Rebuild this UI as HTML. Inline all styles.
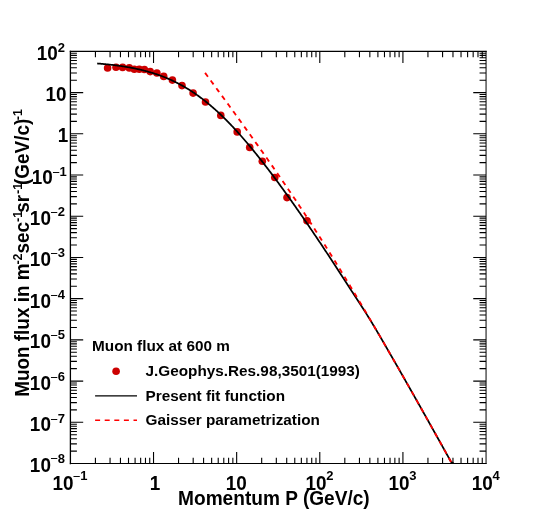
<!DOCTYPE html>
<html><head><meta charset="utf-8"><title>Muon flux</title>
<style>html,body{margin:0;padding:0;background:#fff}svg{display:block}text{font-family:"Liberation Sans", sans-serif;font-weight:bold;fill:#000}</style></head>
<body>
<svg width="540" height="515" viewBox="0 0 540 515">
<rect x="0" y="0" width="540" height="515" fill="#fff"/>
<defs><clipPath id="fr"><rect x="70.40" y="51.40" width="415.65" height="412.10"/></clipPath></defs>
<g clip-path="url(#fr)" fill="none" stroke-linecap="butt" stroke-linejoin="round">
<g fill="#cc0000" stroke="none"><circle cx="107.6" cy="68.0" r="3.8"/><circle cx="116.0" cy="67.3" r="3.8"/><circle cx="122.6" cy="67.4" r="3.8"/><circle cx="129.3" cy="67.9" r="3.8"/><circle cx="134.3" cy="69.2" r="3.8"/><circle cx="139.3" cy="69.3" r="3.8"/><circle cx="144.4" cy="69.5" r="3.8"/><circle cx="150.2" cy="71.6" r="3.8"/><circle cx="156.9" cy="73.0" r="3.8"/><circle cx="163.7" cy="76.4" r="3.8"/><circle cx="172.4" cy="80.1" r="3.8"/><circle cx="182.0" cy="85.6" r="3.8"/><circle cx="193.1" cy="93.1" r="3.8"/><circle cx="205.5" cy="102.0" r="3.8"/><circle cx="220.8" cy="115.4" r="3.8"/><circle cx="237.2" cy="131.9" r="3.8"/><circle cx="249.7" cy="147.4" r="3.8"/><circle cx="262.3" cy="161.3" r="3.8"/><circle cx="274.8" cy="177.5" r="3.8"/><circle cx="287.0" cy="197.6" r="3.8"/><circle cx="307.0" cy="220.8" r="3.8"/></g>
<path d="M97.19 63.45 L97.84 63.51 L98.48 63.56 L99.13 63.61 L99.78 63.67 L100.43 63.72 L101.08 63.78 L101.73 63.84 L102.38 63.90 L103.03 63.95 L103.68 64.02 L104.33 64.08 L104.98 64.14 L105.63 64.20 L106.27 64.27 L106.92 64.33 L107.57 64.40 L108.22 64.47 L108.87 64.54 L109.52 64.61 L110.17 64.68 L110.82 64.75 L111.47 64.83 L112.12 64.90 L112.77 64.98 L113.42 65.06 L114.06 65.14 L114.71 65.22 L115.36 65.30 L116.01 65.38 L116.66 65.47 L117.31 65.55 L117.96 65.64 L118.61 65.73 L119.26 65.82 L119.91 65.91 L120.56 66.00 L121.21 66.10 L121.86 66.20 L122.50 66.29 L123.15 66.39 L123.80 66.49 L124.45 66.60 L125.10 66.70 L125.75 66.81 L126.40 66.92 L127.05 67.02 L127.70 67.14 L128.35 67.25 L129.00 67.36 L129.65 67.48 L130.29 67.60 L130.94 67.72 L131.59 67.84 L132.24 67.97 L132.89 68.09 L133.54 68.22 L134.19 68.35 L134.84 68.48 L135.49 68.62 L136.14 68.76 L136.79 68.89 L137.44 69.04 L138.08 69.18 L138.73 69.32 L139.38 69.47 L140.03 69.62 L140.68 69.77 L141.33 69.93 L141.98 70.08 L142.63 70.24 L143.28 70.40 L143.93 70.57 L144.58 70.74 L145.23 70.90 L145.88 71.08 L146.52 71.25 L147.17 71.43 L147.82 71.61 L148.47 71.79 L149.12 71.97 L149.77 72.16 L150.42 72.35 L151.07 72.54 L151.72 72.74 L152.37 72.94 L153.02 73.14 L153.67 73.34 L154.31 73.55 L154.96 73.76 L155.61 73.97 L156.26 74.19 L156.91 74.41 L157.56 74.63 L158.21 74.85 L158.86 75.08 L159.51 75.31 L160.16 75.55 L160.81 75.79 L161.46 76.03 L162.10 76.27 L162.75 76.52 L163.40 76.77 L164.05 77.03 L164.70 77.29 L165.35 77.55 L166.00 77.81 L166.65 78.08 L167.30 78.35 L167.95 78.63 L168.60 78.91 L169.25 79.19 L169.90 79.48 L170.54 79.77 L171.19 80.06 L171.84 80.36 L172.49 80.66 L173.14 80.96 L173.79 81.27 L174.44 81.58 L175.09 81.90 L175.74 82.22 L176.39 82.54 L177.04 82.87 L177.69 83.20 L178.33 83.54 L178.98 83.88 L179.63 84.22 L180.28 84.57 L180.93 84.92 L181.58 85.28 L182.23 85.64 L182.88 86.00 L183.53 86.37 L184.18 86.74 L184.83 87.12 L185.48 87.50 L186.12 87.89 L186.77 88.28 L187.42 88.67 L188.07 89.07 L188.72 89.47 L189.37 89.87 L190.02 90.29 L190.67 90.70 L191.32 91.12 L191.97 91.54 L192.62 91.97 L193.27 92.40 L193.92 92.84 L194.56 93.28 L195.21 93.73 L195.86 94.18 L196.51 94.63 L197.16 95.09 L197.81 95.55 L198.46 96.02 L199.11 96.49 L199.76 96.97 L200.41 97.45 L201.06 97.93 L201.71 98.42 L202.35 98.91 L203.00 99.41 L203.65 99.91 L204.30 100.42 L204.95 100.93 L205.60 101.45 L206.25 101.97 L206.90 102.49 L207.55 103.02 L208.20 103.56 L208.85 104.09 L209.50 104.64 L210.14 105.18 L210.79 105.73 L211.44 106.29 L212.09 106.85 L212.74 107.41 L213.39 107.98 L214.04 108.55 L214.69 109.13 L215.34 109.71 L215.99 110.30 L216.64 110.88 L217.29 111.48 L217.94 112.08 L218.58 112.68 L219.23 113.29 L219.88 113.90 L220.53 114.51 L221.18 115.13 L221.83 115.75 L222.48 116.38 L223.13 117.01 L223.78 117.65 L224.43 118.29 L225.08 118.93 L225.73 119.58 L226.37 120.23 L227.02 120.88 L227.67 121.54 L228.32 122.21 L228.97 122.87 L229.62 123.54 L230.27 124.22 L230.92 124.90 L231.57 125.58 L232.22 126.26 L232.87 126.95 L233.52 127.65 L234.16 128.34 L234.81 129.05 L235.46 129.75 L236.11 130.46 L236.76 131.17 L237.41 131.88 L238.06 132.60 L238.71 133.33 L239.36 134.05 L240.01 134.78 L240.66 135.51 L241.31 136.25 L241.96 136.99 L242.60 137.73 L243.25 138.48 L243.90 139.23 L244.55 139.98 L245.20 140.73 L245.85 141.49 L246.50 142.25 L247.15 143.02 L247.80 143.79 L248.45 144.56 L249.10 145.33 L249.75 146.11 L250.39 146.89 L251.04 147.67 L251.69 148.46 L252.34 149.25 L252.99 150.04 L253.64 150.83 L254.29 151.63 L254.94 152.43 L255.59 153.23 L256.24 154.04 L256.89 154.85 L257.54 155.66 L258.18 156.47 L258.83 157.29 L259.48 158.11 L260.13 158.93 L260.78 159.75 L261.43 160.58 L262.08 161.41 L262.73 162.24 L263.38 163.07 L264.03 163.91 L264.68 164.75 L265.33 165.59 L265.98 166.43 L266.62 167.27 L267.27 168.12 L267.92 168.97 L268.57 169.82 L269.22 170.68 L269.87 171.53 L270.52 172.39 L271.17 173.25 L271.82 174.12 L272.47 174.98 L273.12 175.85 L273.77 176.72 L274.41 177.59 L275.06 178.46 L275.71 179.33 L276.36 180.21 L277.01 181.09 L277.66 181.97 L278.31 182.85 L278.96 183.73 L279.61 184.62 L280.26 185.51 L280.91 186.40 L281.56 187.29 L282.20 188.18 L282.85 189.07 L283.50 189.97 L284.15 190.87 L284.80 191.77 L285.45 192.67 L286.10 193.57 L286.75 194.47 L287.40 195.38 L288.05 196.29 L288.70 197.20 L289.35 198.11 L290.00 199.02 L290.64 199.93 L291.29 200.85 L291.94 201.76 L292.59 202.68 L293.24 203.60 L293.89 204.52 L294.54 205.44 L295.19 206.37 L295.84 207.29 L296.49 208.22 L297.14 209.15 L297.79 210.08 L298.43 211.01 L299.08 211.94 L299.73 212.87 L300.38 213.80 L301.03 214.74 L301.68 215.68 L302.33 216.61 L302.98 217.55 L303.63 218.49 L304.28 219.44 L304.93 220.38 L305.58 221.32 L306.22 222.27 L306.87 223.21 L307.52 224.16 L308.17 225.11 L308.82 226.06 L309.47 227.01 L310.12 227.96 L310.77 228.92 L311.42 229.87 L312.07 230.83 L312.72 231.79 L313.37 232.74 L314.02 233.70 L314.66 234.66 L315.31 235.62 L315.96 236.59 L316.61 237.55 L317.26 238.51 L317.91 239.48 L318.56 240.45 L319.21 241.41 L319.86 242.38 L320.51 243.35 L321.16 244.32 L321.81 245.30 L322.45 246.27 L323.10 247.24 L323.75 248.22 L324.40 249.19 L325.05 250.17 L325.70 251.15 L326.35 252.13 L327.00 253.11 L327.65 254.09 L328.30 255.07 L328.95 256.05 L329.60 257.04 L330.24 258.02 L330.89 259.01 L331.54 260.00 L332.19 260.99 L332.84 261.98 L333.49 262.97 L334.14 263.96 L334.79 264.95 L335.44 265.94 L336.09 266.94 L336.74 267.93 L337.39 268.93 L338.04 269.93 L338.68 270.93 L339.33 271.93 L339.98 272.93 L340.63 273.93 L341.28 274.93 L341.93 275.94 L342.58 276.94 L343.23 277.95 L343.88 278.95 L344.53 279.96 L345.18 280.97 L345.83 281.98 L346.47 282.99 L347.12 284.01 L347.77 285.02 L348.42 286.03 L349.07 287.05 L349.72 288.07 L350.37 289.08 L351.02 290.09 L351.67 291.10 L352.32 292.10 L352.97 293.10 L353.62 294.09 L354.26 295.08 L354.91 296.07 L355.56 297.06 L356.21 298.05 L356.86 299.04 L357.51 300.02 L358.16 301.01 L358.81 302.00 L359.46 302.99 L360.11 303.99 L360.76 304.98 L361.41 305.98 L362.05 306.99 L362.70 307.99 L363.35 309.00 L364.00 310.01 L364.65 311.03 L365.30 312.05 L365.95 313.08 L366.60 314.11 L367.25 315.15 L367.90 316.19 L368.55 317.23 L369.20 318.28 L369.85 319.34 L370.49 320.40 L371.14 321.46 L371.79 322.53 L372.44 323.60 L373.09 324.68 L373.74 325.76 L374.39 326.85 L375.04 327.94 L375.69 329.03 L376.34 330.13 L376.99 331.23 L377.64 332.34 L378.28 333.45 L378.93 334.56 L379.58 335.67 L380.23 336.79 L380.88 337.90 L381.53 339.02 L382.18 340.14 L382.83 341.25 L383.48 342.37 L384.13 343.49 L384.78 344.61 L385.43 345.73 L386.07 346.85 L386.72 347.98 L387.37 349.10 L388.02 350.22 L388.67 351.35 L389.32 352.47 L389.97 353.60 L390.62 354.73 L391.27 355.85 L391.92 356.98 L392.57 358.11 L393.22 359.24 L393.87 360.37 L394.51 361.50 L395.16 362.63 L395.81 363.76 L396.46 364.89 L397.11 366.03 L397.76 367.16 L398.41 368.29 L399.06 369.43 L399.71 370.56 L400.36 371.70 L401.01 372.83 L401.66 373.97 L402.30 375.11 L402.95 376.25 L403.60 377.39 L404.25 378.53 L404.90 379.67 L405.55 380.81 L406.20 381.95 L406.85 383.09 L407.50 384.23 L408.15 385.37 L408.80 386.52 L409.45 387.66 L410.09 388.80 L410.74 389.95 L411.39 391.09 L412.04 392.24 L412.69 393.39 L413.34 394.53 L413.99 395.68 L414.64 396.83 L415.29 397.98 L415.94 399.13 L416.59 400.27 L417.24 401.42 L417.89 402.58 L418.53 403.73 L419.18 404.88 L419.83 406.03 L420.48 407.18 L421.13 408.33 L421.78 409.49 L422.43 410.64 L423.08 411.79 L423.73 412.95 L424.38 414.10 L425.03 415.26 L425.68 416.42 L426.32 417.57 L426.97 418.73 L427.62 419.89 L428.27 421.04 L428.92 422.20 L429.57 423.36 L430.22 424.52 L430.87 425.68 L431.52 426.84 L432.17 428.00 L432.82 429.16 L433.47 430.32 L434.11 431.48 L434.76 432.64 L435.41 433.80 L436.06 434.97 L436.71 436.13 L437.36 437.29 L438.01 438.46 L438.66 439.62 L439.31 440.79 L439.96 441.95 L440.61 443.11 L441.26 444.28 L441.91 445.45 L442.55 446.61 L443.20 447.78 L443.85 448.95 L444.50 450.11 L445.15 451.28 L445.80 452.45 L446.45 453.62 L447.10 454.78 L447.75 455.95 L448.40 457.12 L449.05 458.29 L449.70 459.46 L450.34 460.63 L450.99 461.80 L453.59 463.50" stroke="#000" stroke-width="1.75"/>
<path d="M205.08 72.90 L205.79 73.85 L206.49 74.81 L207.19 75.76 L207.90 76.72 L208.60 77.68 L209.31 78.63 L210.01 79.59 L210.72 80.55 L211.42 81.50 L212.12 82.46 L212.83 83.42 L213.53 84.38 L214.24 85.34 L214.94 86.30 L215.64 87.26 L216.35 88.21 L217.05 89.17 L217.76 90.13 L218.46 91.10 L219.17 92.06 L219.87 93.02 L220.57 93.98 L221.28 94.94 L221.98 95.90 L222.69 96.87 L223.39 97.83 L224.09 98.79 L224.80 99.76 L225.50 100.72 L226.21 101.68 L226.91 102.65 L227.62 103.62 L228.32 104.58 L229.02 105.55 L229.73 106.51 L230.43 107.48 L231.14 108.45 L231.84 109.42 L232.54 110.38 L233.25 111.35 L233.95 112.32 L234.66 113.29 L235.36 114.26 L236.07 115.23 L236.77 116.21 L237.47 117.18 L238.18 118.15 L238.88 119.12 L239.59 120.10 L240.29 121.07 L241.00 122.05 L241.70 123.02 L242.40 124.00 L243.11 124.97 L243.81 125.95 L244.52 126.93 L245.22 127.91 L245.92 128.88 L246.63 129.86 L247.33 130.84 L248.04 131.82 L248.74 132.81 L249.45 133.79 L250.15 134.77 L250.85 135.75 L251.56 136.74 L252.26 137.72 L252.97 138.71 L253.67 139.69 L254.37 140.68 L255.08 141.67 L255.78 142.66 L256.49 143.65 L257.19 144.64 L257.90 145.63 L258.60 146.62 L259.30 147.61 L260.01 148.61 L260.71 149.60 L261.42 150.59 L262.12 151.59 L262.82 152.59 L263.53 153.59 L264.23 154.58 L264.94 155.58 L265.64 156.58 L266.35 157.58 L267.05 158.59 L267.75 159.59 L268.46 160.59 L269.16 161.60 L269.87 162.61 L270.57 163.61 L271.27 164.62 L271.98 165.63 L272.68 166.64 L273.39 167.65 L274.09 168.66 L274.80 169.68 L275.50 170.69 L276.20 171.71 L276.91 172.72 L277.61 173.74 L278.32 174.76 L279.02 175.78 L279.73 176.80 L280.43 177.82 L281.13 178.85 L281.84 179.87 L282.54 180.90 L283.25 181.93 L283.95 182.95 L284.65 183.98 L285.36 185.01 L286.06 186.05 L286.77 187.08 L287.47 188.11 L288.18 189.15 L288.88 190.19 L289.58 191.23 L290.29 192.27 L290.99 193.31 L291.70 194.35 L292.40 195.39 L293.10 196.44 L293.81 197.48 L294.51 198.53 L295.22 199.58 L295.92 200.63 L296.63 201.68 L297.33 202.74 L298.03 203.79 L298.74 204.85 L299.44 205.91 L300.15 206.97 L300.85 208.03 L301.55 209.09 L302.26 210.15 L302.96 211.22 L303.67 212.28 L304.37 213.35 L305.08 214.42 L305.78 215.49 L306.48 216.56 L307.19 217.64 L307.89 218.71 L308.60 219.79 L309.30 220.87 L310.00 221.95 L310.71 223.03 L311.41 224.11 L312.12 225.20 L312.82 226.28 L313.53 227.37 L314.23 228.46 L314.93 229.55 L315.64 230.64 L316.34 231.74 L317.05 232.83 L317.75 233.93 L318.45 235.03 L319.16 236.13 L319.86 237.23 L320.57 238.33 L321.27 239.44 L321.98 240.54 L322.68 241.65 L323.38 242.76 L324.09 243.87 L324.79 244.98 L325.50 246.10 L326.20 247.21 L326.91 248.33 L327.61 249.45 L328.31 250.56 L329.02 251.69 L329.72 252.81 L330.43 253.93 L331.13 255.06 L331.83 256.19 L332.54 257.32 L333.24 258.45 L333.95 259.58 L334.65 260.71 L335.36 261.84 L336.06 262.98 L336.76 264.12 L337.47 265.26 L338.17 266.40 L338.88 267.54 L339.58 268.68 L340.28 269.83 L340.99 270.97 L341.69 272.12 L342.40 273.27 L343.10 274.42 L343.81 275.57 L344.51 276.73 L345.21 277.88 L345.92 279.04 L346.62 280.19 L347.33 281.35 L348.03 282.51 L348.73 283.67 L349.44 284.83 L350.14 286.00 L350.85 287.16 L351.55 288.33 L352.26 289.50 L352.96 290.66 L353.66 291.83 L354.37 293.01 L355.07 294.18 L355.78 295.35 L356.48 296.53 L357.18 297.70 L357.89 298.88 L358.59 300.06 L359.30 301.24 L360.00 302.42 L360.71 303.60 L361.41 304.78 L362.11 305.97 L362.82 307.15 L363.52 308.34 L364.23 309.53 L364.93 310.71 L365.64 311.90 L366.34 313.09 L367.04 314.29 L367.75 315.48 L368.45 316.67 L369.16 317.87 L369.86 319.06 L370.56 320.26 L371.27 321.46 L371.97 322.65 L372.68 323.85 L373.38 325.06 L374.09 326.26 L374.79 327.46 L375.49 328.66 L376.20 329.87 L376.90 331.07 L377.61 332.28 L378.31 333.49 L379.01 334.69 L379.72 335.90 L380.42 337.11 L381.13 338.32 L381.83 339.54 L382.54 340.75 L383.24 341.96 L383.94 343.17 L384.65 344.39 L385.35 345.61 L386.06 346.82 L386.76 348.04 L387.46 349.26 L388.17 350.48 L388.87 351.70 L389.58 352.92 L390.28 354.14 L390.99 355.36 L391.69 356.58 L392.39 357.81 L393.10 359.03 L393.80 360.26 L394.51 361.48 L395.21 362.71 L395.91 363.94 L396.62 365.17 L397.32 366.40 L398.03 367.63 L398.73 368.86 L399.44 370.09 L400.14 371.32 L400.84 372.55 L401.55 373.78 L402.25 375.02 L402.96 376.25 L403.66 377.49 L404.37 378.72 L405.07 379.96 L405.77 381.20 L406.48 382.44 L407.18 383.67 L407.89 384.91 L408.59 386.15 L409.29 387.39 L410.00 388.63 L410.70 389.88 L411.41 391.12 L412.11 392.36 L412.82 393.60 L413.52 394.85 L414.22 396.09 L414.93 397.34 L415.63 398.58 L416.34 399.83 L417.04 401.08 L417.74 402.33 L418.45 403.57 L419.15 404.82 L419.86 406.07 L420.56 407.32 L421.27 408.57 L421.97 409.82 L422.67 411.07 L423.38 412.33 L424.08 413.58 L424.79 414.83 L425.49 416.09 L426.19 417.34 L426.90 418.60 L427.60 419.85 L428.31 421.11 L429.01 422.36 L429.72 423.62 L430.42 424.88 L431.12 426.13 L431.83 427.39 L432.53 428.65 L433.24 429.91 L433.94 431.17 L434.64 432.43 L435.35 433.69 L436.05 434.95 L436.76 436.21 L437.46 437.47 L438.17 438.74 L438.87 440.00 L439.57 441.26 L440.28 442.53 L440.98 443.79 L441.69 445.05 L442.39 446.32 L443.09 447.58 L443.80 448.85 L444.50 450.11 L445.21 451.38 L445.91 452.65 L446.62 453.92 L447.32 455.18 L448.02 456.45 L448.73 457.72 L449.43 458.99 L450.14 460.26 L450.84 461.53 L451.55 462.80 L452.25 464.07 L452.95 465.34 L453.66 466.61 L454.36 467.88 L455.07 469.15 L455.77 470.42 L456.47 471.69 L457.18 472.96 L457.88 474.24 L458.59 475.51 L459.29 476.78 L460.00 478.06 L460.70 479.33 L461.40 480.61 L462.11 481.88 L462.81 483.15 L463.52 484.43 L464.22 485.70 L464.92 486.98 L465.63 488.26 L466.33 489.53 L467.04 490.81 L467.74 492.09 L468.45 493.36 L469.15 494.64 L469.85 495.92 L470.56 497.19 L471.26 498.47 L471.97 499.75 L472.67 501.03 L473.37 502.31 L474.08 503.59 L474.78 504.86 L475.49 506.14 L476.19 507.42 L476.90 508.70 L477.60 509.98 L478.30 511.26 L479.01 512.54 L479.71 513.82 L480.42 515.10 L481.12 516.38 L481.82 517.67 L482.53 518.95 L483.23 520.23 L483.94 521.51 L484.64 522.79 L485.35 524.07 L486.05 525.36" stroke="#ff0000" stroke-width="1.85" stroke-dasharray="4.8 4.7"/>
</g>
<g fill="none" stroke="#000" stroke-linecap="square"><path d="M70.40 51.40V463.50" stroke-width="1.3"/><path d="M70.40 463.50H486.05" stroke-width="1.05"/><path d="M486.05 51.40V463.50" stroke-width="1.0"/><path d="M70.40 51.40H486.05" stroke-width="1.2"/></g>
<path d="M95.42 463.50v-5.80M95.42 51.40v5.80M110.06 463.50v-5.80M110.06 51.40v5.80M120.45 463.50v-5.80M120.45 51.40v5.80M128.51 463.50v-5.80M128.51 51.40v5.80M135.09 463.50v-5.80M135.09 51.40v5.80M140.65 463.50v-5.80M140.65 51.40v5.80M145.47 463.50v-5.80M145.47 51.40v5.80M149.73 463.50v-5.80M149.73 51.40v5.80M153.53 463.50v-11.60M153.53 51.40v11.60M178.55 463.50v-5.80M178.55 51.40v5.80M193.19 463.50v-5.80M193.19 51.40v5.80M203.58 463.50v-5.80M203.58 51.40v5.80M211.64 463.50v-5.80M211.64 51.40v5.80M218.22 463.50v-5.80M218.22 51.40v5.80M223.78 463.50v-5.80M223.78 51.40v5.80M228.60 463.50v-5.80M228.60 51.40v5.80M232.86 463.50v-5.80M232.86 51.40v5.80M236.66 463.50v-11.60M236.66 51.40v11.60M261.68 463.50v-5.80M261.68 51.40v5.80M276.32 463.50v-5.80M276.32 51.40v5.80M286.71 463.50v-5.80M286.71 51.40v5.80M294.77 463.50v-5.80M294.77 51.40v5.80M301.35 463.50v-5.80M301.35 51.40v5.80M306.91 463.50v-5.80M306.91 51.40v5.80M311.73 463.50v-5.80M311.73 51.40v5.80M315.99 463.50v-5.80M315.99 51.40v5.80M319.79 463.50v-11.60M319.79 51.40v11.60M344.81 463.50v-5.80M344.81 51.40v5.80M359.45 463.50v-5.80M359.45 51.40v5.80M369.84 463.50v-5.80M369.84 51.40v5.80M377.90 463.50v-5.80M377.90 51.40v5.80M384.48 463.50v-5.80M384.48 51.40v5.80M390.04 463.50v-5.80M390.04 51.40v5.80M394.86 463.50v-5.80M394.86 51.40v5.80M399.12 463.50v-5.80M399.12 51.40v5.80M402.92 463.50v-11.60M402.92 51.40v11.60M427.94 463.50v-5.80M427.94 51.40v5.80M442.58 463.50v-5.80M442.58 51.40v5.80M452.97 463.50v-5.80M452.97 51.40v5.80M461.03 463.50v-5.80M461.03 51.40v5.80M467.61 463.50v-5.80M467.61 51.40v5.80M473.17 463.50v-5.80M473.17 51.40v5.80M477.99 463.50v-5.80M477.99 51.40v5.80M482.25 463.50v-5.80M482.25 51.40v5.80M70.40 451.09h6.50M486.05 451.09h-6.50M70.40 443.84h6.50M486.05 443.84h-6.50M70.40 438.69h6.50M486.05 438.69h-6.50M70.40 434.70h6.50M486.05 434.70h-6.50M70.40 431.43h6.50M486.05 431.43h-6.50M70.40 428.67h6.50M486.05 428.67h-6.50M70.40 426.28h6.50M486.05 426.28h-6.50M70.40 424.18h6.50M486.05 424.18h-6.50M70.40 422.29h12.80M486.05 422.29h-12.80M70.40 409.88h6.50M486.05 409.88h-6.50M70.40 402.63h6.50M486.05 402.63h-6.50M70.40 397.48h6.50M486.05 397.48h-6.50M70.40 393.49h6.50M486.05 393.49h-6.50M70.40 390.22h6.50M486.05 390.22h-6.50M70.40 387.46h6.50M486.05 387.46h-6.50M70.40 385.07h6.50M486.05 385.07h-6.50M70.40 382.97h6.50M486.05 382.97h-6.50M70.40 381.08h12.80M486.05 381.08h-12.80M70.40 368.67h6.50M486.05 368.67h-6.50M70.40 361.42h6.50M486.05 361.42h-6.50M70.40 356.27h6.50M486.05 356.27h-6.50M70.40 352.28h6.50M486.05 352.28h-6.50M70.40 349.01h6.50M486.05 349.01h-6.50M70.40 346.25h6.50M486.05 346.25h-6.50M70.40 343.86h6.50M486.05 343.86h-6.50M70.40 341.76h6.50M486.05 341.76h-6.50M70.40 339.87h12.80M486.05 339.87h-12.80M70.40 327.46h6.50M486.05 327.46h-6.50M70.40 320.21h6.50M486.05 320.21h-6.50M70.40 315.06h6.50M486.05 315.06h-6.50M70.40 311.07h6.50M486.05 311.07h-6.50M70.40 307.80h6.50M486.05 307.80h-6.50M70.40 305.04h6.50M486.05 305.04h-6.50M70.40 302.65h6.50M486.05 302.65h-6.50M70.40 300.55h6.50M486.05 300.55h-6.50M70.40 298.66h12.80M486.05 298.66h-12.80M70.40 286.25h6.50M486.05 286.25h-6.50M70.40 279.00h6.50M486.05 279.00h-6.50M70.40 273.85h6.50M486.05 273.85h-6.50M70.40 269.86h6.50M486.05 269.86h-6.50M70.40 266.59h6.50M486.05 266.59h-6.50M70.40 263.83h6.50M486.05 263.83h-6.50M70.40 261.44h6.50M486.05 261.44h-6.50M70.40 259.34h6.50M486.05 259.34h-6.50M70.40 257.45h12.80M486.05 257.45h-12.80M70.40 245.04h6.50M486.05 245.04h-6.50M70.40 237.79h6.50M486.05 237.79h-6.50M70.40 232.64h6.50M486.05 232.64h-6.50M70.40 228.65h6.50M486.05 228.65h-6.50M70.40 225.38h6.50M486.05 225.38h-6.50M70.40 222.62h6.50M486.05 222.62h-6.50M70.40 220.23h6.50M486.05 220.23h-6.50M70.40 218.13h6.50M486.05 218.13h-6.50M70.40 216.24h12.80M486.05 216.24h-12.80M70.40 203.83h6.50M486.05 203.83h-6.50M70.40 196.58h6.50M486.05 196.58h-6.50M70.40 191.43h6.50M486.05 191.43h-6.50M70.40 187.44h6.50M486.05 187.44h-6.50M70.40 184.17h6.50M486.05 184.17h-6.50M70.40 181.41h6.50M486.05 181.41h-6.50M70.40 179.02h6.50M486.05 179.02h-6.50M70.40 176.92h6.50M486.05 176.92h-6.50M70.40 175.03h12.80M486.05 175.03h-12.80M70.40 162.62h6.50M486.05 162.62h-6.50M70.40 155.37h6.50M486.05 155.37h-6.50M70.40 150.22h6.50M486.05 150.22h-6.50M70.40 146.23h6.50M486.05 146.23h-6.50M70.40 142.96h6.50M486.05 142.96h-6.50M70.40 140.20h6.50M486.05 140.20h-6.50M70.40 137.81h6.50M486.05 137.81h-6.50M70.40 135.71h6.50M486.05 135.71h-6.50M70.40 133.82h12.80M486.05 133.82h-12.80M70.40 121.41h6.50M486.05 121.41h-6.50M70.40 114.16h6.50M486.05 114.16h-6.50M70.40 109.01h6.50M486.05 109.01h-6.50M70.40 105.02h6.50M486.05 105.02h-6.50M70.40 101.75h6.50M486.05 101.75h-6.50M70.40 98.99h6.50M486.05 98.99h-6.50M70.40 96.60h6.50M486.05 96.60h-6.50M70.40 94.50h6.50M486.05 94.50h-6.50M70.40 92.61h12.80M486.05 92.61h-12.80M70.40 80.20h6.50M486.05 80.20h-6.50M70.40 72.95h6.50M486.05 72.95h-6.50M70.40 67.80h6.50M486.05 67.80h-6.50M70.40 63.81h6.50M486.05 63.81h-6.50M70.40 60.54h6.50M486.05 60.54h-6.50M70.40 57.78h6.50M486.05 57.78h-6.50M70.40 55.39h6.50M486.05 55.39h-6.50M70.40 53.29h6.50M486.05 53.29h-6.50" fill="none" stroke="#000" stroke-width="1.1" stroke-linecap="butt" stroke-linejoin="miter"/>
<g font-size="18.9" text-anchor="end">
<text transform="translate(65.00 472.30) scale(1 1.044)">10<tspan font-size="13.0" dy="-8.50" dx="-0.30" font-weight="normal">−</tspan><tspan font-size="13.0" dy="-0.9" dx="-0.4">8</tspan></text>
<text transform="translate(65.00 431.29) scale(1 1.044)">10<tspan font-size="13.0" dy="-7.30" dx="-0.30" font-weight="normal">−</tspan><tspan font-size="13.0" dy="-0.9" dx="-0.4">7</tspan></text>
<text transform="translate(65.00 389.88) scale(1 1.044)">10<tspan font-size="13.0" dy="-7.65" dx="-0.30" font-weight="normal">−</tspan><tspan font-size="13.0" dy="-0.9" dx="-0.4">6</tspan></text>
<text transform="translate(65.00 348.37) scale(1 1.044)">10<tspan font-size="13.0" dy="-7.70" dx="-0.30" font-weight="normal">−</tspan><tspan font-size="13.0" dy="-0.9" dx="-0.4">5</tspan></text>
<text transform="translate(65.00 307.66) scale(1 1.044)">10<tspan font-size="13.0" dy="-7.80" dx="-0.30" font-weight="normal">−</tspan><tspan font-size="13.0" dy="-0.9" dx="-0.4">4</tspan></text>
<text transform="translate(65.00 266.45) scale(1 1.044)">10<tspan font-size="13.0" dy="-7.80" dx="-0.30" font-weight="normal">−</tspan><tspan font-size="13.0" dy="-0.9" dx="-0.4">3</tspan></text>
<text transform="translate(65.00 225.24) scale(1 1.044)">10<tspan font-size="13.0" dy="-7.90" dx="-0.30" font-weight="normal">−</tspan><tspan font-size="13.0" dy="-0.9" dx="-0.4">2</tspan></text>
<text transform="translate(66.80 184.03) scale(1 1.044)">10<tspan font-size="13.0" dy="-6.90" dx="-0.30" font-weight="normal">−</tspan><tspan font-size="13.0" dy="-0.9" dx="-0.4">1</tspan></text>
<text transform="translate(68.20 141.72) scale(1 1.044)">1</text>
<text transform="translate(66.40 100.51) scale(1 1.044)">10</text>
<text transform="translate(65.00 60.40) scale(1 1.044)">10<tspan font-size="13.0" dy="-8.20" dx="0.00">2</tspan></text>
</g>
<g font-size="18.9" text-anchor="middle">
<text transform="translate(70.00 489.90) scale(1 1.044)">10<tspan font-size="13.0" dy="-8.40" dx="-0.60" font-weight="normal">−</tspan><tspan font-size="13.0" dy="-0.9" dx="-0.4">1</tspan></text>
<text transform="translate(154.93 489.90) scale(1 1.044)">1</text>
<text transform="translate(236.26 489.90) scale(1 1.044)">10</text>
<text transform="translate(319.39 489.90) scale(1 1.044)">10<tspan font-size="13.0" dy="-9.30" dx="-0.30">2</tspan></text>
<text transform="translate(402.52 489.90) scale(1 1.044)">10<tspan font-size="13.0" dy="-9.30" dx="-0.30">3</tspan></text>
<text transform="translate(485.65 489.90) scale(1 1.044)">10<tspan font-size="13.0" dy="-9.30" dx="-0.30">4</tspan></text>
</g>
<text transform="translate(273.90 504.80) scale(1 1.044)" font-size="19.1" text-anchor="middle">Momentum P (GeV/c)</text>
<text transform="translate(28.5 396.8) rotate(-90) scale(1 1.044)" font-size="18.9">Muon flux in m<tspan font-size="12.4" dy="-6.5" dx="-1.00">-2</tspan><tspan dy="6.5">sec</tspan><tspan font-size="12.4" dy="-6.5" dx="0.00">-1</tspan><tspan dy="6.5" dx="-1.8">sr</tspan><tspan font-size="12.4" dy="-6.5" dx="0.90">-1</tspan><tspan dy="6.5" dx="-2.0" letter-spacing="0.02">(GeV/c)</tspan><tspan font-size="12.4" dy="-6.5" dx="-1.50">-1</tspan></text>
<g font-size="15.3">
<text transform="translate(92.10 351.20) scale(1 1.000)">Muon flux at 600 m</text>
<text transform="translate(145.60 376.20) scale(1 1.000)">J.Geophys.Res.98,3501(1993)</text>
<text transform="translate(145.60 401.30) scale(1 1.000)">Present fit function</text>
<text transform="translate(145.60 425.10) scale(1 1.000)">Gaisser parametrization</text>
</g>
<circle cx="116.1" cy="371.3" r="3.8" fill="#cc0000"/>
<path d="M95.1 395.85H137" stroke="#000" stroke-width="1.35" fill="none"/>
<path d="M95.1 420.25H137" stroke="#ff0000" stroke-width="1.4" stroke-dasharray="5 4.6" fill="none"/>
</svg>
</body></html>
